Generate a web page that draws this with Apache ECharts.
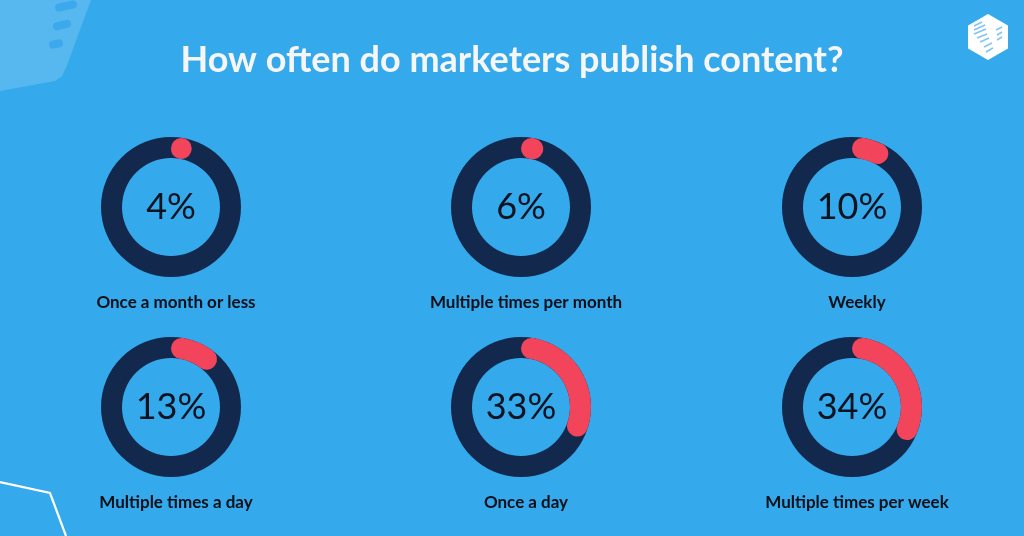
<!DOCTYPE html>
<html><head><meta charset="utf-8">
<style>html,body{margin:0;padding:0;background:#34A9EC;}#c{width:1024px;height:536px;}</style>
<script src="https://cdn.jsdelivr.net/npm/echarts@6/dist/echarts.min.js"></script>
</head><body><div id="c"></div>
<script>
const titleText = 'How often do marketers publish content?';
const categories = ['Once a month or less','Multiple times per month','Weekly','Multiple times a day','Once a day','Multiple times per week'];
const values = [4, 6, 10, 13, 33, 34];

const centersX = [171, 521, 852];
const centersY = [207, 407];
const labelY = [300, 500];
const NAVY = '#12284C', RED = '#F2445A', BG = '#34A9EC';

const chart = echarts.init(document.getElementById('c'), null, {renderer:'canvas'});
const series = [];
const titles = [{
  text: titleText, left: 'center', top: 37,
  textStyle: {color:'#F6F6F6', fontFamily:'Lato', fontWeight:'bold', fontSize:36}
}];
categories.forEach((cat, i) => {
  const cx = centersX[i % 3], cy = centersY[Math.floor(i / 3)];
  series.push({
    type:'pie', silent:true, center:[cx, cy], radius:[49, 70], z:1,
    label:{show:false}, labelLine:{show:false},
    data:[{value:100, itemStyle:{color:NAVY}}]
  });
  series.push({
    type:'pie', silent:true, center:[cx, cy], radius:[49, 70], z:2,
    startAngle:90, clockwise:true, avoidLabelOverlap:false, minAngle:20,
    labelLine:{show:false},
    itemStyle:{borderRadius:11, borderWidth:0},
    data:[
      {value:values[i], name:cat, itemStyle:{color:RED},
       label:{show:true, position:'center', formatter:'{c}%', color:'#0B1220',
              fontFamily:'Lato', fontWeight:'normal', fontSize:36}},
      {value:100 - values[i], itemStyle:{color:'transparent'}, label:{show:false}}
    ]
  });
  titles.push({
    text: cat, left: cx, top: labelY[Math.floor(i / 3)] - 11, textAlign:'center',
    textStyle:{color:'#0B0F18', fontFamily:'Lato', fontWeight:'bold', fontSize:17}
  });
});

chart.setOption({
  backgroundColor: BG,
  animation:false,
  title: titles,
  graphic: [
    {type:'polygon', z:-1, shape:{points:[[0,0],[91,0],[66,68],[62,76],[55,81],[0,91]], smooth:0}, style:{fill:'#57B8F0'}},
    {type:'rect', z:0, x:66, y:6, rotation:0.22, shape:{x:-11,y:-4,width:22,height:8,r:4}, style:{fill:'#3BA9EC'}},
    {type:'rect', z:0, x:62, y:25, rotation:0.22, shape:{x:-9,y:-4,width:18,height:8,r:4}, style:{fill:'#3BA9EC'}},
    {type:'rect', z:0, x:56, y:44, rotation:0.22, shape:{x:-7,y:-4,width:14,height:8,r:4}, style:{fill:'#3BA9EC'}},
    {type:'polyline', z:0, shape:{points:[[0,482],[50,493],[66,536]]}, style:{stroke:'#FFFFFF', lineWidth:2.2, fill:null}},
    {type:'polygon', z:0, shape:{points:[[988,15],[1007,26],[1007,48],[988,59],[969,48],[969,26]]}, style:{fill:'#FFFFFF', stroke:'#FFFFFF', lineWidth:2, lineJoin:'round'}},
    {type:'group', z:1, children:[
      {type:'line', shape:{x1:974,y1:26,x2:982,y2:22}, style:{stroke:'#7FC4F0',lineWidth:1.5}},
      {type:'line', shape:{x1:974,y1:30,x2:985,y2:25}, style:{stroke:'#7FC4F0',lineWidth:1.5}},
      {type:'line', shape:{x1:974,y1:34,x2:986,y2:29}, style:{stroke:'#7FC4F0',lineWidth:1.5}},
      {type:'line', shape:{x1:977,y1:38,x2:987,y2:34}, style:{stroke:'#7FC4F0',lineWidth:1.5}},
      {type:'line', shape:{x1:980,y1:42,x2:989,y2:38}, style:{stroke:'#7FC4F0',lineWidth:1.5}},
      {type:'line', shape:{x1:984,y1:47,x2:992,y2:43}, style:{stroke:'#7FC4F0',lineWidth:1.5}},
      {type:'line', shape:{x1:986,y1:52,x2:993,y2:48}, style:{stroke:'#7FC4F0',lineWidth:1.5}},
      {type:'line', shape:{x1:996,y1:30,x2:1002,y2:27}, style:{stroke:'#7FC4F0',lineWidth:1.5}},
      {type:'line', shape:{x1:997,y1:35,x2:1002,y2:32}, style:{stroke:'#7FC4F0',lineWidth:1.5}},
      {type:'line', shape:{x1:997,y1:40,x2:1002,y2:37}, style:{stroke:'#7FC4F0',lineWidth:1.5}}
    ]}
  ],
  series: series
});
</script></body></html>
